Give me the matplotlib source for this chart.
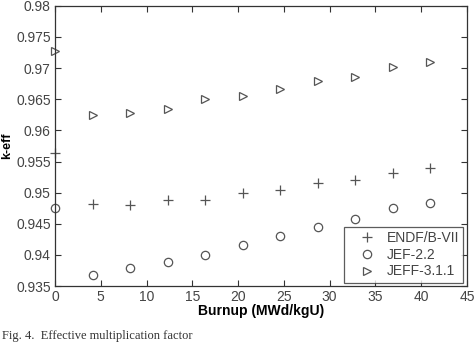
import matplotlib
matplotlib.use('Agg')
import matplotlib.pyplot as plt

# burnup steps (MWd/kgU)
burnup = [0, 4.1, 8.2, 12.3, 16.4, 20.5, 24.6, 28.7, 32.8, 36.9, 41.0]

# k-eff values per library
endf = [0.9563, 0.9481, 0.9480, 0.9488, 0.9488, 0.9499, 0.9505, 0.9515, 0.9521, 0.9532, 0.9539]
jef22 = [0.9475, 0.9367, 0.9379, 0.9389, 0.9400, 0.9416, 0.9431, 0.9445, 0.9457, 0.9476, 0.9484]
jeff311 = [0.9727, 0.9624, 0.9628, 0.9634, 0.9650, 0.9656, 0.9667, 0.9679, 0.9685, 0.9701, 0.9710]

xticks = [0, 5, 10, 15, 20, 25, 30, 35, 40, 45]
yticks = [0.935, 0.94, 0.945, 0.95, 0.955, 0.96, 0.965, 0.97, 0.975, 0.98]

plt.rcParams['font.family'] = ['Liberation Sans', 'DejaVu Sans']

fig = plt.figure(figsize=(4.74, 3.43), dpi=100)
ax = fig.add_axes([0.116, 0.166, 0.869, 0.817])

mc = '#555555'
ax.plot(burnup, endf, linestyle='none', marker='+', markersize=7, mew=0.9,
        color=mc, label='ENDF/B-VII', clip_on=False)
ax.plot(burnup, jef22, linestyle='none', marker='o', markersize=6, mew=0.9,
        mfc='none', color=mc, label='JEF-2.2', clip_on=False)
ax.plot(burnup, jeff311, linestyle='none', marker='>', markersize=5.5, mew=0.9,
        mfc='none', color=mc, label='JEFF-3.1.1', clip_on=False)

ax.set_xlim(0, 45)
ax.set_ylim(0.935, 0.98)
ax.set_xticks(xticks)
ax.set_xticklabels([str(t) for t in xticks])
ax.set_yticks(yticks)
ax.set_yticklabels(['%g' % t for t in yticks])
ax.tick_params(direction='in', top=True, right=True, length=4, width=0.8,
               labelsize=10, labelcolor='#444444', color='#333333', pad=3)
for s in ax.spines.values():
    s.set_color('#333333')
    s.set_linewidth(0.9)

ax.set_xlabel('Burnup (MWd/kgU)', fontsize=10, fontweight='bold', labelpad=0)
ax.set_ylabel('k-eff', fontsize=9, fontweight='bold', labelpad=2)

leg = ax.legend(loc='lower right', fontsize=10, frameon=True, fancybox=False,
                borderaxespad=0.25, handlelength=2.7, handletextpad=0.1,
                labelspacing=0.2, borderpad=0.3, labelcolor='#444444')
leg.get_frame().set_edgecolor('#333333')
leg.get_frame().set_linewidth(0.9)

# caption under the chart
fig.text(0.005, 0.004, 'Fig. 4.  Effective multiplication factor',
         fontsize=9, family='Liberation Serif', color='#333333', va='bottom')

fig.savefig('out.png', dpi=100)
